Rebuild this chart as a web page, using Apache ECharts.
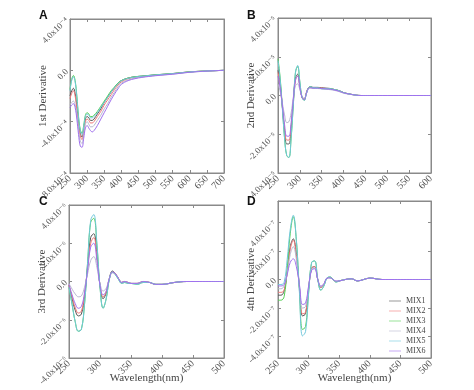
<!DOCTYPE html>
<html><head><meta charset="utf-8">
<script src="https://cdn.jsdelivr.net/npm/echarts@6/dist/echarts.min.js"></script>
<style>html,body{margin:0;padding:0;background:#fff}#c{width:474px;height:390px}</style>
</head><body><div id="c"></div>
<script>
const seriesNames = ['MIX1','MIX2','MIX3','MIX4','MIX5','MIX6'];
const seriesColors = ['#555555','#f07878','#55d055','#b8b8d0','#70c8dc','#a070ee'];

// Panel A: 1st derivative (x10^-4)
const xA = [250,255,260,265,270,275,280,285,290,295,300,305,310,315,320,330,340,350,360,370,380,390,400,420,440,460,480,500,550,600,650,700];
const A1 = [-2.0,-1.6,-1.4,-1.8,-2.8,-4.0,-4.9,-5.2,-4.6,-3.8,-3.6,-3.7,-3.9,-3.9,-3.8,-3.4,-3.0,-2.5,-2.1,-1.7,-1.35,-1.0,-0.8,-0.6,-0.5,-0.45,-0.4,-0.35,-0.25,-0.12,-0.05,0];
const A2 = [-2.2,-1.8,-1.6,-2.0,-3.0,-4.2,-5.1,-5.4,-4.8,-4.0,-3.8,-3.9,-4.1,-4.1,-4.0,-3.6,-3.2,-2.7,-2.3,-1.9,-1.5,-1.15,-0.9,-0.66,-0.55,-0.48,-0.43,-0.38,-0.27,-0.13,-0.05,0];
const A3 = [-1.5,-0.7,-0.4,-0.8,-2.0,-3.6,-4.6,-4.9,-4.3,-3.5,-3.3,-3.4,-3.6,-3.6,-3.5,-3.2,-2.8,-2.4,-2.0,-1.6,-1.3,-1.0,-0.8,-0.6,-0.5,-0.45,-0.4,-0.35,-0.25,-0.12,-0.05,0];
const A4 = [-2.7,-2.5,-2.4,-2.7,-3.5,-4.6,-5.5,-5.7,-5.0,-4.2,-4.0,-4.2,-4.4,-4.4,-4.3,-3.9,-3.5,-3.0,-2.6,-2.1,-1.7,-1.3,-1.0,-0.75,-0.6,-0.52,-0.46,-0.4,-0.29,-0.15,-0.06,0];
const A5 = [-1.6,-0.8,-0.5,-0.9,-2.1,-3.7,-4.7,-5.0,-4.4,-3.6,-3.4,-3.5,-3.7,-3.7,-3.6,-3.3,-2.9,-2.5,-2.1,-1.7,-1.35,-1.05,-0.82,-0.62,-0.52,-0.46,-0.41,-0.36,-0.26,-0.13,-0.05,0];
const A6 = [-2.9,-2.7,-2.6,-2.9,-3.8,-5.0,-5.9,-6.0,-5.3,-4.5,-4.3,-4.5,-4.7,-4.8,-4.7,-4.3,-3.8,-3.3,-2.8,-2.3,-1.85,-1.45,-1.1,-0.8,-0.65,-0.55,-0.48,-0.42,-0.3,-0.15,-0.06,0];

// Panel B: 2nd derivative (x10^-5)
const xB = [250,255,260,265,270,275,280,285,290,295,300,305,310,315,320,325,330,340,350,360,370,380,390,400,420,440,460,500,550,600];
const B1 = [1.3,0.6,-0.6,-1.8,-2.5,-2.5,-1.7,-0.3,0.9,1.1,0.5,-0.1,-0.2,0.15,0.4,0.45,0.42,0.42,0.4,0.38,0.36,0.3,0.25,0.15,0.05,0,0,0,0,0];
const B2 = [1.2,0.5,-0.6,-1.7,-2.3,-2.3,-1.6,-0.3,0.8,1.0,0.45,-0.1,-0.2,0.15,0.4,0.42,0.4,0.4,0.38,0.36,0.34,0.3,0.24,0.15,0.05,0,0,0,0,0];
const B3 = [1.9,0.9,-0.6,-2.2,-3.1,-3.2,-2.2,-0.5,1.2,1.5,0.7,-0.1,-0.25,0.1,0.4,0.45,0.4,0.4,0.35,0.35,0.35,0.3,0.25,0.15,0.05,0,0,0,0,0];
const B4 = [0.6,0.2,-0.4,-1.0,-1.4,-1.35,-0.9,-0.1,0.5,0.6,0.3,-0.05,-0.15,0.1,0.35,0.38,0.36,0.36,0.34,0.32,0.3,0.26,0.2,0.12,0.04,0,0,0,0,0];
const B5 = [1.8,0.8,-0.7,-2.2,-3.1,-3.2,-2.2,-0.5,1.2,1.55,0.7,-0.1,-0.25,0.1,0.4,0.45,0.4,0.4,0.35,0.35,0.35,0.3,0.25,0.15,0.05,0,0,0,0,0];
const B6 = [1.0,0.4,-0.5,-1.5,-2.1,-2.1,-1.4,-0.2,0.8,1.0,0.4,-0.1,-0.22,0.1,0.38,0.4,0.38,0.38,0.36,0.34,0.32,0.28,0.22,0.14,0.05,0,0,0,0,0];

// Panel C: 3rd derivative (x10^-6)
const xC = [250,255,260,265,270,275,280,285,290,295,300,305,310,315,320,325,330,335,340,345,350,360,370,380,390,400,420,440,460,480,500];
const C1 = [-0.2,-0.9,-1.5,-1.8,-1.7,-0.8,0.8,2.3,2.5,1.4,-0.2,-0.9,-0.6,0.15,0.55,0.4,0.15,-0.05,0,-0.05,-0.1,-0.1,0,-0.05,-0.15,-0.15,-0.05,0,0,0,0];
const C2 = [-0.2,-0.8,-1.35,-1.65,-1.55,-0.7,0.7,2.0,2.3,1.3,-0.2,-0.8,-0.55,0.15,0.5,0.4,0.15,-0.05,0,-0.05,-0.1,-0.1,0,-0.05,-0.15,-0.15,-0.05,0,0,0,0];
const C3 = [-0.3,-1.2,-2.1,-2.6,-2.5,-1.2,1.0,3.1,3.3,1.9,-0.3,-1.4,-0.9,0.1,0.5,0.35,0.1,-0.1,-0.05,-0.1,-0.1,-0.15,-0.05,-0.05,-0.15,-0.15,-0.05,0,0,0,0];
const C4 = [-0.1,-0.4,-0.65,-0.8,-0.75,-0.3,0.4,1.1,1.3,0.75,-0.1,-0.5,-0.35,0.15,0.45,0.38,0.15,-0.05,0,-0.05,-0.1,-0.1,0,-0.05,-0.15,-0.15,-0.05,0,0,0,0];
const C5 = [-0.3,-1.2,-2.1,-2.6,-2.5,-1.2,1.0,3.2,3.5,2.0,-0.3,-1.4,-0.9,0.1,0.5,0.35,0.1,-0.1,-0.05,-0.1,-0.1,-0.15,-0.05,-0.05,-0.15,-0.15,-0.05,0,0,0,0];
const C6 = [-0.15,-0.7,-1.15,-1.4,-1.3,-0.6,0.6,1.8,2.0,1.1,-0.2,-0.7,-0.5,0.15,0.5,0.4,0.15,-0.05,0,-0.05,-0.1,-0.1,0,-0.05,-0.15,-0.15,-0.05,0,0,0,0];

// Panel D: 4th derivative (x10^-7)
const xD = [250,255,260,265,270,275,280,285,290,295,300,305,310,315,320,325,330,335,340,345,350,360,370,380,390,400,420,440,460,480,500];
const D1 = [-1.1,-1.1,-0.8,0.55,2.3,2.85,1.75,-0.55,-2.55,-2.4,-0.65,0.8,0.9,0,-0.55,-0.35,0.1,0.14,0,-0.14,-0.1,0,0.05,-0.1,0,0.1,0,0,0,0,0];
const D2 = [-0.9,-0.9,-0.75,0.45,2.1,2.75,1.65,-0.55,-2.4,-2.3,-0.65,0.8,0.9,0,-0.55,-0.35,0.1,0.14,0,-0.14,-0.1,0,0.05,-0.1,0,0.1,0,0,0,0,0];
const D3 = [-1.45,-1.45,-1.2,0.75,3.2,4.4,2.75,-0.75,-3.5,-3.3,-0.9,1.2,1.3,0,-0.75,-0.45,0.1,0.18,0,-0.18,-0.1,0,0.05,-0.1,0,0.1,0,0,0,0,0];
const D4 = [-0.65,-0.65,-0.45,0.45,1.75,2.3,1.4,-0.45,-2.0,-1.9,-0.55,0.75,0.8,0,-0.5,-0.35,0.1,0.11,0,-0.11,-0.1,0,0.05,-0.1,0,0.1,0,0,0,0,0];
const D5 = [-0.35,-0.35,-0.2,1.4,3.5,4.5,2.75,-0.9,-3.95,-3.65,-1.0,1.2,1.3,0,-0.75,-0.45,0.1,0.18,0,-0.18,-0.1,0,0.05,-0.1,0,0.1,0,0,0,0,0];
const D6 = [-0.45,-0.45,-0.35,0.35,1.2,1.45,0.9,-0.35,-1.75,-1.65,-0.45,0.65,0.75,0,-0.45,-0.3,0.1,0.11,0,-0.11,-0.1,0,0.05,-0.1,0,0.1,0,0,0,0,0];
const yTicksD = [-4,-2,0,2,4];

const panels = [
  {letter:'A', name:'1st Derivative', xs:xA, ys:[A1,A2,A3,A4,A5,A6], xmin:250, xmax:700, ymin:-8, ymax:4, yint:4, exp:'⁻⁴',
   grid:{left:70, top:19, width:154, height:154}, xname:'', lx:39, ly:10},
  {letter:'B', name:'2nd Derivative', xs:xB, ys:[B1,B2,B3,B4,B5,B6], xmin:250, xmax:600, ymin:-4, ymax:4, yint:2, exp:'⁻⁵',
   grid:{left:278, top:18, width:153, height:155}, xname:'', lx:247, ly:10},
  {letter:'C', name:'3rd Derivative', xs:xC, ys:[C1,C2,C3,C4,C5,C6], xmin:250, xmax:500, ymin:-4, ymax:4, yint:2, exp:'⁻⁶',
   grid:{left:69, top:205, width:155, height:153}, xname:'Wavelength(nm)', lx:39, ly:196},
  {letter:'D', name:'4th Derivative', xs:xD, ys:[D1,D2,D3,D4,D5,D6], xmin:250, xmax:500, ymin:-5.5, ymax:5.5, custom:yTicksD, exp:'⁻⁷',
   grid:{left:278, top:201, width:153, height:157}, xname:'Wavelength(nm)', lx:247, ly:196}
];

const serif = '"Liberation Serif","DejaVu Serif",serif';
const axisColor = '#8a8a8a';
const labelColor = '#555';
const option = {
  animation:false,
  backgroundColor:'#fff',
  grid:[], xAxis:[], yAxis:[], series:[], graphic:[],
  legend:{
    data:seriesNames, orient:'vertical', left:384, top:292, itemWidth:12, itemHeight:8, itemGap:2,
    textStyle:{fontFamily:serif, fontSize:8, color:'#444'},
    icon:'path://M0,4L20,4L20,5L0,5Z'
  }
};
panels.forEach((p,i)=>{
  option.grid.push(Object.assign({show:true, borderColor:axisColor, borderWidth:1}, p.grid));
  const xBase = {gridIndex:i, type:'value', min:p.xmin, max:p.xmax, interval:50,
    axisLine:{show:true, onZero:false, lineStyle:{color:axisColor}}, splitLine:{show:false}};
  option.xAxis.push(Object.assign({}, xBase, {position:'bottom',
    axisTick:{show:true, inside:true, length:3, lineStyle:{color:axisColor}},
    axisLabel:{rotate:45, fontFamily:serif, fontSize:10, color:labelColor, margin:4},
    name:p.xname, nameLocation:'middle', nameGap:15, nameMoveOverlap:false,
    nameTextStyle:{fontFamily:serif, fontSize:11, color:'#444'}}));
  option.xAxis.push(Object.assign({}, xBase, {position:'top',
    axisTick:{show:true, inside:true, length:3, lineStyle:{color:axisColor}}, axisLabel:{show:false}}));
  const yBase = {gridIndex:i, type:'value', min:p.ymin, max:p.ymax,
    axisLine:{show:true, onZero:false, lineStyle:{color:axisColor}}, splitLine:{show:false}};
  if (!p.custom) yBase.interval = p.yint;
  const exp = p.exp;
  const fmt = function(v){ if(Math.abs(v)<1e-9) return '0.0'; return v.toFixed(1)+'x10'+exp; };
  const tickL = {show:true, inside:true, length:3, lineStyle:{color:axisColor}};
  const labL = {rotate:45, fontFamily:serif, fontSize:9, color:labelColor, margin:3, formatter:fmt};
  if (p.custom) { tickL.customValues = p.custom; labL.customValues = p.custom; }
  option.yAxis.push(Object.assign({}, yBase, {position:'left',
    axisTick:tickL, axisLabel:labL,
    name:p.name, nameLocation:'middle', nameGap:21, nameMoveOverlap:false,
    nameTextStyle:{fontFamily:serif, fontSize:11, color:'#444'}}));
  const tickR = {show:true, inside:true, length:3, lineStyle:{color:axisColor}};
  if (p.custom) tickR.customValues = p.custom;
  option.yAxis.push(Object.assign({}, yBase, {position:'right',
    axisTick:tickR, axisLabel:{show:false}}));
  p.ys.forEach((arr,k)=>{
    option.series.push({
      name:seriesNames[k], type:'line', xAxisIndex:2*i, yAxisIndex:2*i, smooth:0.4, showSymbol:false, symbol:'none',
      data:p.xs.map((x,j)=>[x,arr[j]]),
      lineStyle:{width:1, color:seriesColors[k]}, itemStyle:{color:seriesColors[k]}
    });
  });
  option.graphic.push({type:'text', left:p.lx, top:p.ly,
    style:{text:p.letter, font:'bold 12px "Liberation Sans",Arial,sans-serif', fill:'#111'}});
});
const chart = echarts.init(document.getElementById('c'), null, {renderer:'canvas'});
chart.setOption(option);
</script></body></html>
